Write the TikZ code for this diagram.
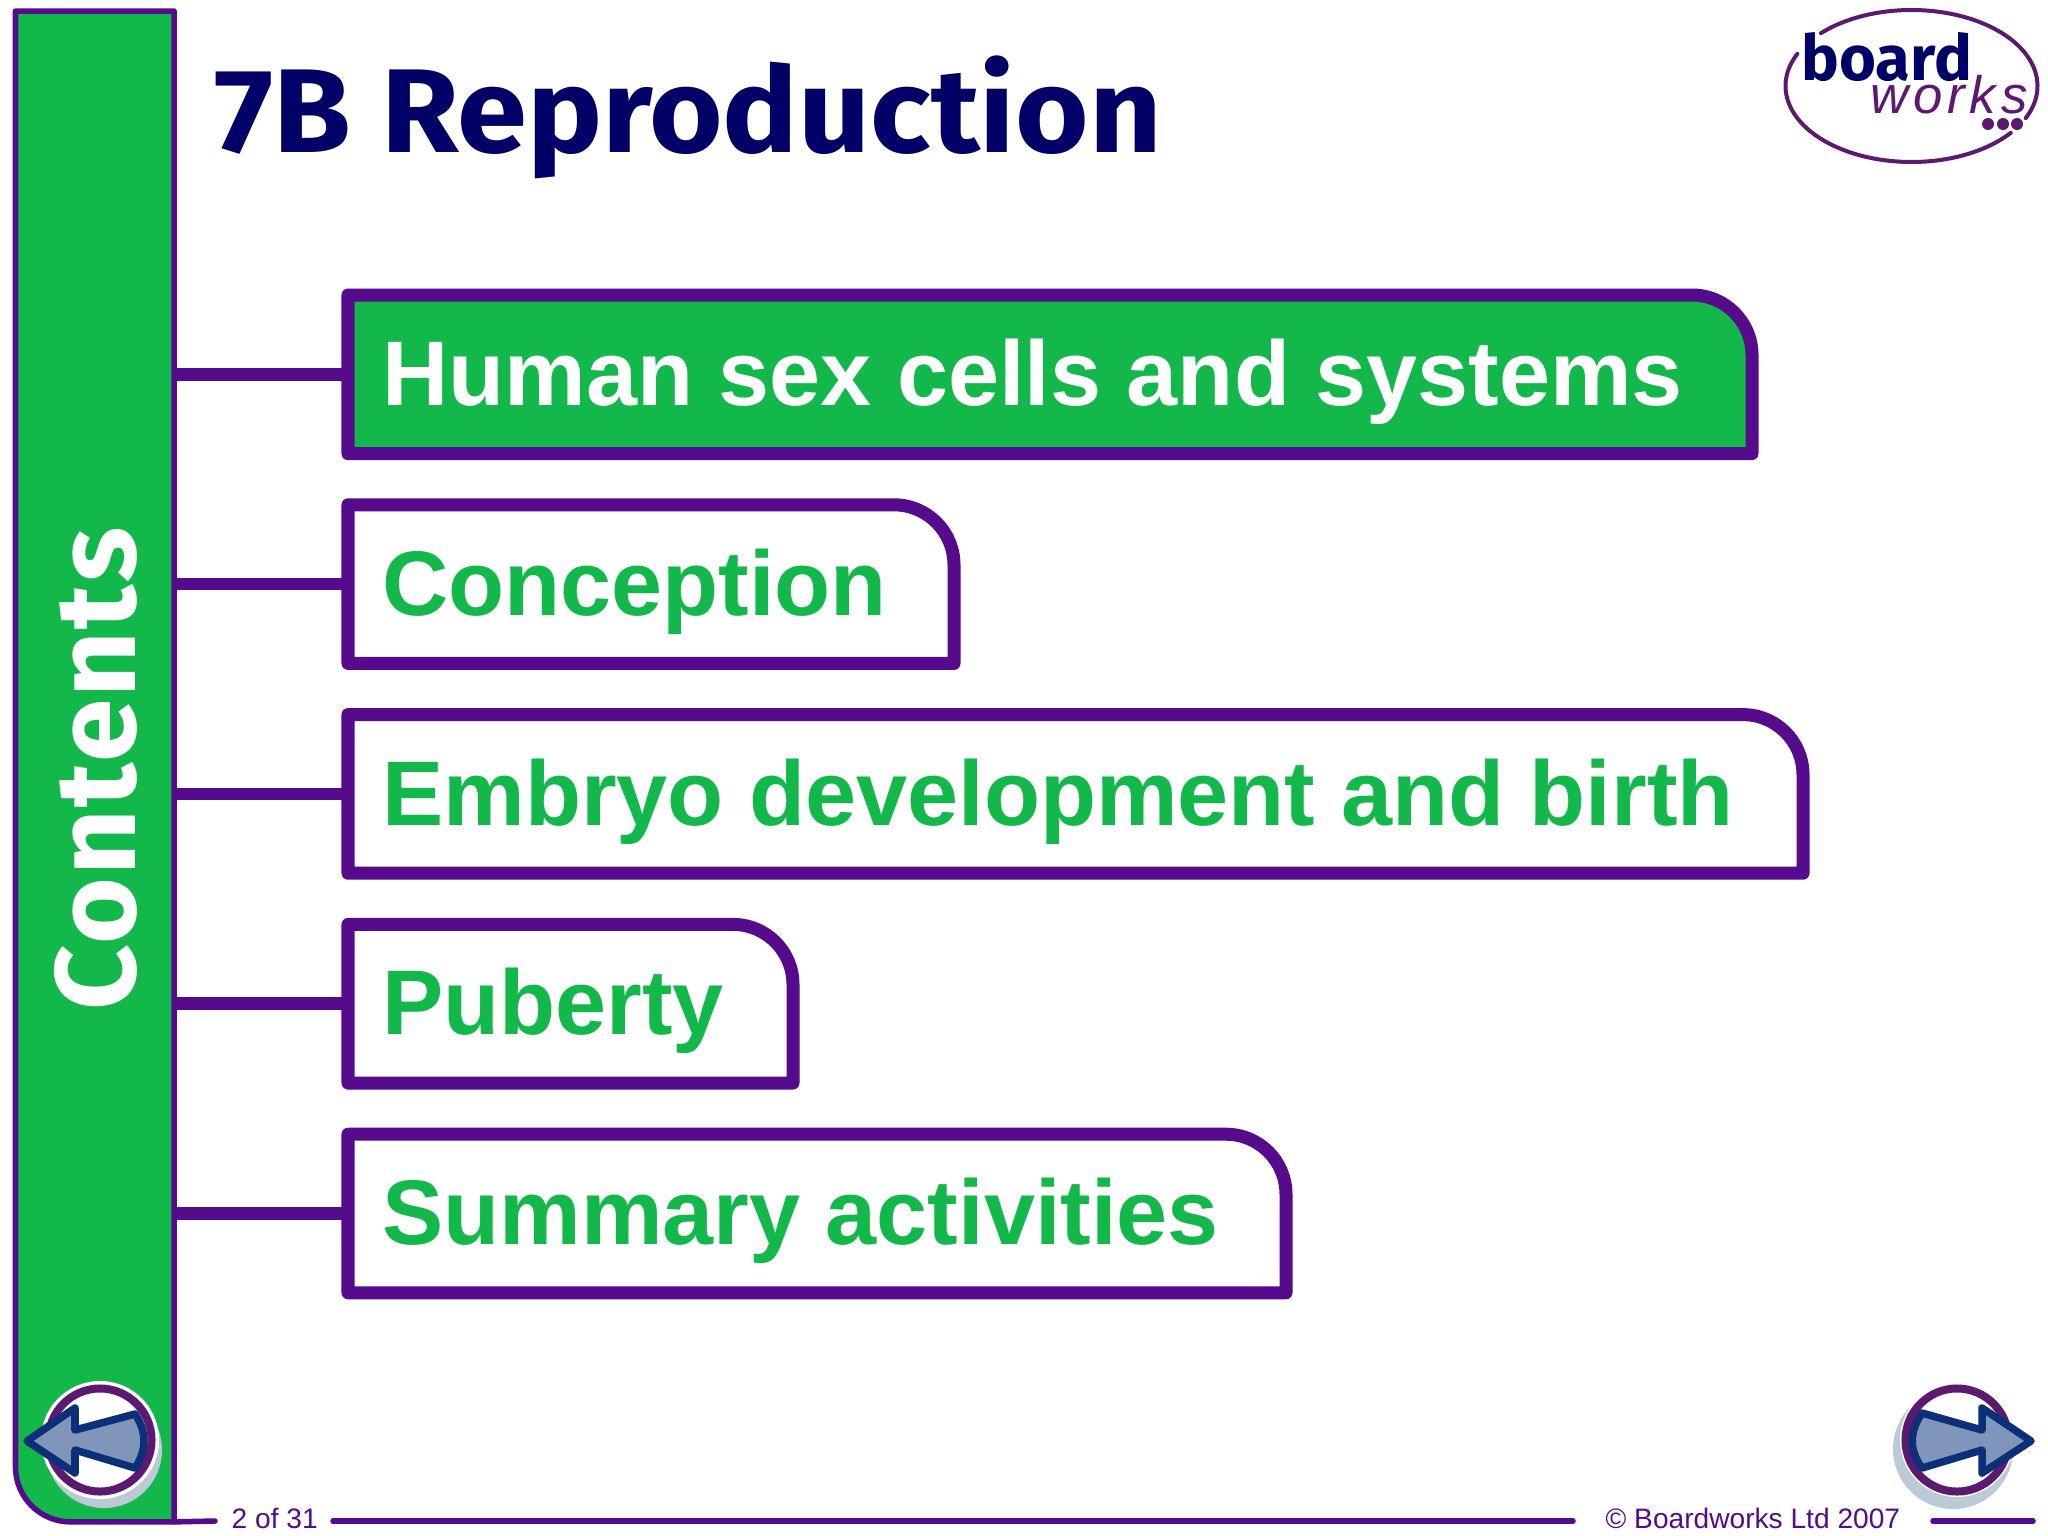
\documentclass[tikz,border=0pt]{standalone}
\usepackage{fontspec}
\setmainfont{Liberation Sans}
\newfontfamily\titlefont{Fira Sans}
\definecolor{bwpurple}{HTML}{560A8C}
\definecolor{bwgreen}{HTML}{12B84A}
\definecolor{bwnavy}{HTML}{000066}
\definecolor{logopurple}{HTML}{5B1A6F}
\definecolor{arrownavy}{HTML}{0B2F78}
\definecolor{arrowfill}{HTML}{7F95B9}
\definecolor{btnshadow}{HTML}{BCC9D6}
\tikzset{
  tabanchor/.style={inner sep=0pt,outer sep=0pt,anchor=north west,minimum width=#1},
  tabline/.style={draw=bwpurple,line width=0.13cm,line join=round},
  linkline/.style={draw=bwpurple,line width=0.125cm},
  tabtext/.style={inner sep=0pt,anchor=base west,font=\fontsize{26.1}{27}\selectfont\bfseries},
  footline/.style={draw=bwpurple,line width=0.055cm,line cap=round},
  foottext/.style={inner sep=0pt,anchor=base west,text=bwpurple,font=\fontsize{8}{9}\selectfont},
  navarrow/.style={draw=arrownavy,fill=arrowfill,line width=0.075cm,line join=round},
  navring/.style={draw=logopurple,fill=white,line width=0.08cm},
}
% name, top y, right x, fill, text colour, label
\newcommand{\tabbox}[6]{%
  \node[tabanchor={(#3-348)*0.01cm},minimum height=1.585cm] (#1) at (348,#2) {};
  \draw[tabline,fill=#4] (#1.north west) -- ([xshift=-0.6cm]#1.north east)
     arc[start angle=90,end angle=0,radius=0.6cm] -- (#1.south east) -- (#1.south west) -- cycle;
  \node[tabtext,text=#5] (#1text) at ([xshift=0.335cm,yshift=-1.105cm]#1.north west) {#6};
  \draw[linkline] (side.east |- #1.west) -- (#1.west);
}
\begin{document}
\begin{tikzpicture}[x=0.01cm,y=-0.01cm]
\useasboundingbox (0,0) rectangle (2048,1536);
\fill[white] (0,0) rectangle (2048,1536);
% sidebar
\node[inner sep=0pt,outer sep=0pt,anchor=north west,minimum width=1.585cm,minimum height=15.1cm] (side) at (15.5,11) {};
\draw[draw=bwpurple,line width=0.055cm,fill=bwgreen,line join=round]
  (side.north west) -- (side.north east) -- (side.south east) -- ([xshift=0.55cm]side.south west)
  arc[start angle=270,end angle=180,radius=0.55cm] -- cycle;
\node[rotate=90,inner sep=0pt,anchor=base,text=white,font=\titlefont\fontsize{32.5}{34}\selectfont\bfseries\addfontfeatures{LetterSpace=2}] (contents) at (135,769) {Contents};
% title
\node[inner sep=0pt,anchor=base west,xscale=1.058,text=bwnavy,font=\titlefont\fontsize{33.9}{34}\selectfont\bfseries] (title) at (214,152) {7B Reproduction};
% tabs
\tabbox{t1}{295}{1752}{bwgreen}{white}{Human sex cells and systems}
\tabbox{t2}{504.8}{954}{white}{bwgreen}{Conception}
\tabbox{t3}{714.6}{1803}{white}{bwgreen}{Embryo development and birth}
\tabbox{t4}{924.4}{793}{white}{bwgreen}{Puberty}
\tabbox{t5}{1134.2}{1286}{white}{bwgreen}{Summary activities}
% footer
\coordinate (f0) at (side.south east);
\coordinate (f1) at (215,1521);
\coordinate (f2) at (333,1521);
\coordinate (f3) at (1573,1521);
\coordinate (f4) at (1933,1521);
\coordinate (f5) at (2033,1521);
\draw[footline] (f0) -- (f1);
\draw[footline] (f2) -- (f3);
\draw[footline] (f4) -- (f5);
\node[foottext] (page) at (231,1528) {2 of 31};
\node[foottext] (copy) at (1605,1528) {© Boardworks Ltd 2007};
% left button
\fill[btnshadow] (104,1450) circle[radius=0.58cm];
\fill[white] (100,1440) circle[radius=0.59cm];
\path[navring] (100,1440) circle[radius=0.515cm];
\path[navarrow] (27,1441) -- (75,1408) -- (75,1430) -- (135,1414) .. controls (147,1432) and (147,1450) .. (135,1468) -- (75,1450) -- (75,1473) -- cycle;
% right button
\fill[btnshadow] (1953,1449) circle[radius=0.6cm];
\fill[white] (1957,1440) circle[radius=0.57cm];
\path[navring] (1957,1440) circle[radius=0.515cm];
\path[navarrow] (2031,1441) -- (1982,1408) -- (1982,1430) -- (1922,1413) .. controls (1909,1432) and (1909,1450) .. (1922,1468) -- (1982,1450) -- (1982,1473) -- cycle;
% logo
\draw[draw=logopurple,line width=0.04cm,line cap=round] plot[domain=-25:136,samples=70,smooth] ({1911.5+126*cos(\x)},{86-76*sin(\x)});
\draw[draw=logopurple,line width=0.04cm,line cap=round] plot[domain=155:322,samples=70,smooth] ({1911.5+126*cos(\x)},{86-76*sin(\x)});
\node[inner sep=0pt,anchor=base west,text=bwnavy,font=\titlefont\fontsize{18}{18}\selectfont\bfseries] (board) at (1801,80) {board};
\node[inner sep=0pt,anchor=base west,text=logopurple,font=\fontsize{15}{16}\selectfont\itshape\addfontfeatures{LetterSpace=9}] (works) at (1870,113) {works};
\fill[logopurple] (1988,124) circle[radius=0.06cm] (2003,124) circle[radius=0.06cm] (2017,124) circle[radius=0.06cm];
\end{tikzpicture}
\end{document}
